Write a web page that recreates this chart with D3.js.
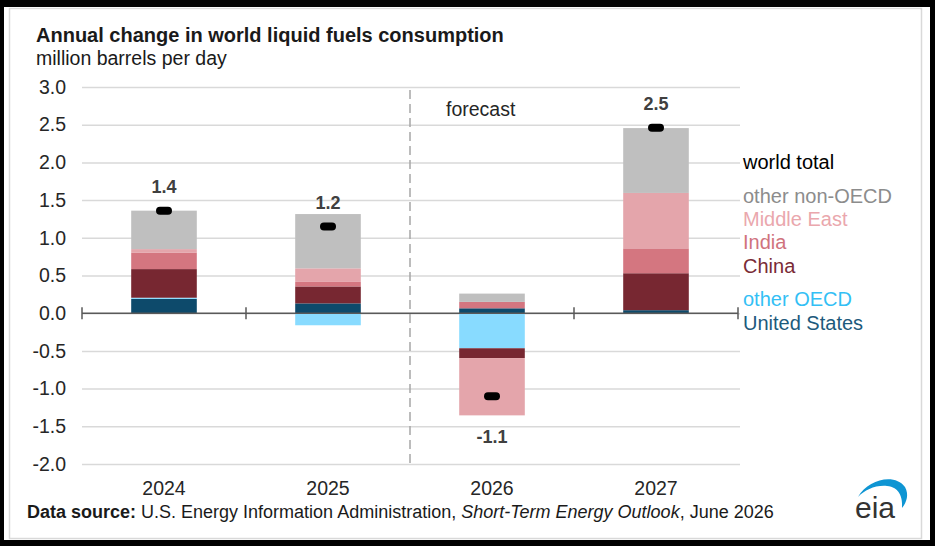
<!DOCTYPE html>
<html>
<head>
<meta charset="utf-8">
<script src="https://cdn.jsdelivr.net/npm/d3@7"></script>
<style>
  body { margin: 0; background: #000; }
  svg { display: block; font-family: "Liberation Sans", Arial, sans-serif; }
</style>
</head>
<body>
<svg id="chart" width="935" height="546"></svg>
<script>
// chart data (million barrels per day)
const years = ["2024", "2025", "2026", "2027"];
const unitedStates = [0.19, 0.13, 0.065, 0.04];
const otherOECD = [0.015, -0.16, -0.465, 0];
const china = [0.38, 0.225, -0.13, 0.49];
const india = [0.22, 0.06, 0.085, 0.33];
const middleEast = [0.045, 0.18, -0.76, 0.735];
const otherNonOECD = [0.51, 0.72, 0.11, 0.86];
const worldTotal = [1.36, 1.15, -1.1, 2.46];
const totalLabels = ["1.4", "1.2", "-1.1", "2.5"];
const yTicks = [3, 2.5, 2, 1.5, 1, 0.5, 0, -0.5, -1, -1.5, -2];

// series names in stacking order, with colours
const seriesNames = ["United States", "other OECD", "China", "India", "Middle East", "other non-OECD"];
const seriesValues = [unitedStates, otherOECD, china, india, middleEast, otherNonOECD];
const barColors = ["#0d4a6b", "#88dbff", "#772731", "#d47680", "#e4a5ab", "#bfbfbf"];
const textColors = ["#1d5a7c", "#33bff5", "#7a2b36", "#d0737d", "#eaa7ad", "#8c8c8c"];

// rows for d3.stack
const rows = years.map((year, i) => {
  const row = { year };
  seriesNames.forEach((name, j) => (row[name] = seriesValues[j][i]));
  return row;
});

const svg = d3.select("#chart");

// white panel with thin grey frame
svg.append("rect").attr("x", 4).attr("y", 7).attr("width", 926).attr("height", 533).attr("fill", "#fff");
svg.append("rect").attr("x", 9.5).attr("y", 8.5).attr("width", 912).attr("height", 530)
  .attr("fill", "none").attr("stroke", "#d9d9d9").attr("stroke-width", 1.5);

// scales
const x = d3.scaleBand().domain(years).range([82, 738]);
const y = d3.scaleLinear().domain([-2, 3]).range([464, 87]);
const barWidth = x.bandwidth() * 0.4;

// title
svg.append("text").attr("x", 36).attr("y", 42)
  .attr("font-size", 20).attr("font-weight", "bold").attr("fill", "#1a1a1a")
  .text("Annual change in world liquid fuels consumption");
svg.append("text").attr("x", 36).attr("y", 65)
  .attr("font-size", 19.5).attr("fill", "#1a1a1a")
  .text("million barrels per day");

// y axis with gridlines (plain hyphen for negatives)
const yAxis = d3.axisLeft(y)
  .tickValues(yTicks)
  .tickFormat((d) => d.toFixed(1))
  .tickSize(-(740 - 82))
  .tickPadding(16);

const yGroup = svg.append("g").attr("transform", "translate(82,0)").call(yAxis);
yGroup.select(".domain").remove();
yGroup.selectAll(".tick line").attr("stroke", "#d9d9d9").attr("stroke-width", 1.5);
yGroup.selectAll(".tick text")
  .attr("font-size", 19.5).attr("fill", "#262626")
  .attr("font-family", "Liberation Sans, Arial, sans-serif");

// forecast divider
const splitX = x("2026");
svg.append("line")
  .attr("x1", splitX).attr("x2", splitX)
  .attr("y1", y(3) + 3).attr("y2", y(-2))
  .attr("stroke", "#a6a6a6").attr("stroke-width", 1.5)
  .attr("stroke-dasharray", "9,5");
svg.append("text").attr("x", splitX + 36).attr("y", 109).attr("dy", "0.35em")
  .attr("font-size", 19.5).attr("fill", "#262626").text("forecast");

// stacked bars
const stack = d3.stack().keys(seriesNames).offset(d3.stackOffsetDiverging);
const stacked = stack(rows);

svg.append("g")
  .selectAll("g")
  .data(stacked)
  .join("g")
  .attr("fill", (d, i) => barColors[i])
  .selectAll("rect")
  .data((d) => d)
  .join("rect")
  .attr("x", (d) => x(d.data.year) + (x.bandwidth() - barWidth) / 2)
  .attr("width", barWidth)
  .attr("y", (d) => y(Math.max(d[0], d[1])))
  .attr("height", (d) => Math.abs(y(d[0]) - y(d[1])));

// zero axis line with boundary ticks
svg.append("line")
  .attr("x1", 82).attr("x2", 738)
  .attr("y1", y(0)).attr("y2", y(0))
  .attr("stroke", "#595959").attr("stroke-width", 1.5);
const boundaries = years.map((d) => x(d)).concat([x(years[years.length - 1]) + x.bandwidth()]);
svg.append("g")
  .selectAll("line")
  .data(boundaries.filter((d) => d !== splitX))
  .join("line")
  .attr("x1", (d) => d).attr("x2", (d) => d)
  .attr("y1", y(0) - 6).attr("y2", y(0) + 6)
  .attr("stroke", "#595959").attr("stroke-width", 1.5);

// year labels
svg.append("g")
  .selectAll("text")
  .data(years)
  .join("text")
  .attr("x", (d) => x(d) + x.bandwidth() / 2)
  .attr("y", 488).attr("dy", "0.35em")
  .attr("text-anchor", "middle")
  .attr("font-size", 19.5).attr("fill", "#262626")
  .text((d) => d);

// world total markers
svg.append("g")
  .selectAll("rect")
  .data(worldTotal)
  .join("rect")
  .attr("x", (d, i) => x(years[i]) + x.bandwidth() / 2 - 8)
  .attr("y", (d) => y(d) - 4)
  .attr("width", 16).attr("height", 8).attr("rx", 4)
  .attr("fill", "#000");

// world total labels
const bottomOf = (i) => d3.min(stacked, (s) => s[i][0]);
svg.append("g")
  .selectAll("text")
  .data(worldTotal)
  .join("text")
  .attr("x", (d, i) => x(years[i]) + x.bandwidth() / 2)
  .attr("y", (d, i) => (d >= 0 ? y(d) - 24 : y(bottomOf(i)) + 21))
  .attr("dy", "0.35em")
  .attr("text-anchor", "middle")
  .attr("font-size", 18).attr("font-weight", "bold").attr("fill", "#404040")
  .text((d, i) => totalLabels[i]);

// legend labels on the right
const legendY = [323, 299, 266, 242, 219, 196];
svg.append("text").attr("x", 743).attr("y", 162).attr("dy", "0.35em")
  .attr("font-size", 20).attr("fill", "#000").text("world total");
svg.append("g")
  .selectAll("text")
  .data(seriesNames)
  .join("text")
  .attr("x", 743)
  .attr("y", (d, i) => legendY[i]).attr("dy", "0.35em")
  .attr("font-size", 20)
  .attr("fill", (d, i) => textColors[i])
  .text((d) => d);

// source note
const source = svg.append("text").attr("x", 27).attr("y", 518)
  .attr("font-size", 18).attr("fill", "#1a1a1a");
source.append("tspan").attr("font-weight", "bold").text("Data source: ");
source.append("tspan").text("U.S. Energy Information Administration, ");
source.append("tspan").attr("font-style", "italic").text("Short-Term Energy Outlook");
source.append("tspan").text(", June 2026");

// eia logo
const logo = svg.append("g").attr("transform", "translate(855,0)");
logo.append("path")
  .attr("d", "M3,497 C13,479 40,473 50,487 C54,494 52,502 47,508 C48,497 44,487 32,486 C20,485 10,490 3,497 Z")
  .attr("fill", "#0e95d3");
logo.append("text").attr("x", 0).attr("y", 518)
  .attr("font-size", 30).attr("fill", "#333")
  .text("eia");
</script>
</body>
</html>
